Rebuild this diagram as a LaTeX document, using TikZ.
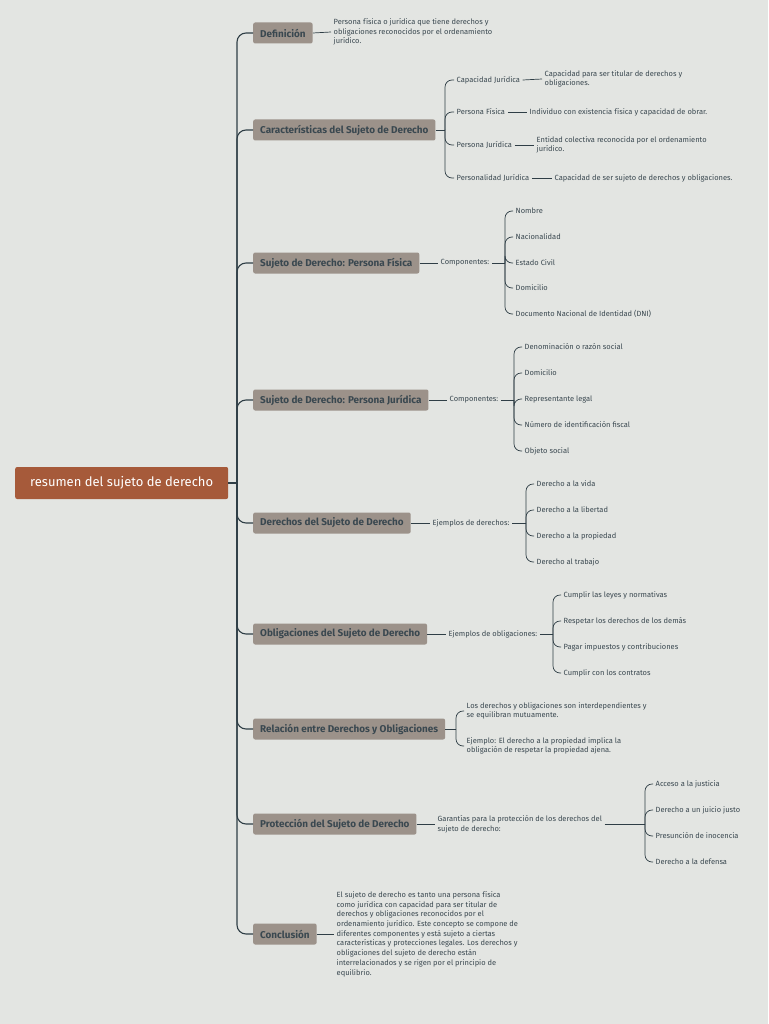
\documentclass[tikz,border=0pt]{standalone}
\usepackage{fontspec}
\setmainfont{Fira Sans}
\begin{document}
\begin{tikzpicture}[x=1pt,y=-1pt,
  line/.style={draw=lc,line width=1.1pt,rounded corners=9},
  thin/.style={draw=lc,line width=0.7pt,rounded corners=7},
  br/.style={anchor=west,fill=bx,rounded corners=2pt,text=tx,font=\fontsize{9.9}{11}\selectfont\bfseries,minimum height=21,inner xsep=7},
  lf/.style={anchor=west,text=tx,font=\fontsize{7.5}{9.7}\selectfont,align=left,inner xsep=2.5,inner ysep=1.5}]
\definecolor{bg}{HTML}{E3E5E2}\definecolor{bx}{HTML}{9C928A}\definecolor{tx}{HTML}{3A4850}
\definecolor{lc}{HTML}{2F3E46}\definecolor{rt}{HTML}{A65A3A}
\fill[bg] (0,0) rectangle (768,1024);
\useasboundingbox (0,0) rectangle (768,1024);
\node[anchor=west,fill=rt,rounded corners=2pt,text=white,font=\fontsize{13}{14}\selectfont,minimum height=32,minimum width=213,inner xsep=10] (root) at (15,483) {resumen del sujeto de derecho};
\coordinate (T) at (237,483);
\draw[line] (root.east) -- (T);
\node[br] (b1) at (253,33) {Definición};
\node[br] (b2) at (253,130) {Características del Sujeto de Derecho};
\node[br] (b3) at (253,263) {Sujeto de Derecho: Persona Física};
\node[br] (b4) at (253,400) {Sujeto de Derecho: Persona Jurídica};
\node[br] (b5) at (253,523) {Derechos del Sujeto de Derecho};
\node[br] (b6) at (253,634) {Obligaciones del Sujeto de Derecho};
\node[br] (b7) at (253,729) {Relación entre Derechos y Obligaciones};
\node[br] (b8) at (253,824) {Protección del Sujeto de Derecho};
\node[br] (b9) at (253,934) {Conclusión};
\foreach \b in {b1,b2,b3,b4,b5,b6,b7,b8,b9} \draw[line] (T) |- (\b.west);
% 1
\node[lf] (d1) at (331,32) {Persona física o jurídica que tiene derechos y\\obligaciones reconocidos por el ordenamiento\\jurídico.};
\draw[thin] (b1.east) -- (d1.west);
% 2
\coordinate (h2) at (445,130);
\draw[thin] (b2.east) -- (h2);
\node[lf] (c21) at (454,80) {Capacidad Jurídica};
\node[lf] (c22) at (454,112) {Persona Física};
\node[lf] (c23) at (454,145) {Persona Jurídica};
\node[lf] (c24) at (454,178) {Personalidad Jurídica};
\foreach \c in {c21,c22,c23,c24} \draw[thin] (h2) |- (\c.west);
\node[lf] (g21) at (542,79) {Capacidad para ser titular de derechos y\\obligaciones.};
\node[lf] (g22) at (527,112) {Individuo con existencia física y capacidad de obrar.};
\node[lf] (g23) at (534,145) {Entidad colectiva reconocida por el ordenamiento\\jurídico.};
\node[lf] (g24) at (552,178) {Capacidad de ser sujeto de derechos y obligaciones.};
\draw[thin] (c21.east) -- (g21.west); \draw[thin] (c22.east) -- (g22.west);
\draw[thin] (c23.east) -- (g23.west); \draw[thin] (c24.east) -- (g24.west);
% 3
\node[lf] (m3) at (438,263) {Componentes:};
\draw[thin] (b3.east) -- (m3.west);
\coordinate (h3) at (505,263); \draw[thin] (m3.east) -- (h3);
\foreach \t/\y [count=\i] in {Nombre/211,Nacionalidad/237,Estado Civil/263,Domicilio/288,Documento Nacional de Identidad (DNI)/314}{
  \node[lf] (c3\i) at (513,\y) {\t}; \draw[thin] (h3) |- (c3\i.west);}
% 4
\node[lf] (m4) at (447,400) {Componentes:};
\draw[thin] (b4.east) -- (m4.west);
\coordinate (h4) at (514,400); \draw[thin] (m4.east) -- (h4);
\foreach \t/\y [count=\i] in {Denominación o razón social/347,Domicilio/373,Representante legal/399,Número de identificación fiscal/425,Objeto social/451}{
  \node[lf] (c4\i) at (522,\y) {\t}; \draw[thin] (h4) |- (c4\i.west);}
% 5
\node[lf] (m5) at (430,523) {Ejemplos de derechos:};
\draw[thin] (b5.east) -- (m5.west);
\coordinate (h5) at (526,523); \draw[thin] (m5.east) -- (h5);
\foreach \t/\y [count=\i] in {Derecho a la vida/484,Derecho a la libertad/510,Derecho a la propiedad/536,Derecho al trabajo/562}{
  \node[lf] (c5\i) at (534,\y) {\t}; \draw[thin] (h5) |- (c5\i.west);}
% 6
\node[lf] (m6) at (446,634) {Ejemplos de obligaciones:};
\draw[thin] (b6.east) -- (m6.west);
\coordinate (h6) at (553,634); \draw[thin] (m6.east) -- (h6);
\foreach \t/\y [count=\i] in {Cumplir las leyes y normativas/595,Respetar los derechos de los demás/621,Pagar impuestos y contribuciones/647,Cumplir con los contratos/673}{
  \node[lf] (c6\i) at (561,\y) {\t}; \draw[thin] (h6) |- (c6\i.west);}
% 7
\coordinate (h7) at (456,729); \draw[thin] (b7.east) -- (h7);
\node[lf] (c71) at (464,711) {Los derechos y obligaciones son interdependientes y\\se equilibran mutuamente.};
\node[lf] (c72) at (464,746) {Ejemplo: El derecho a la propiedad implica la\\obligación de respetar la propiedad ajena.};
\draw[thin] (h7) |- (c71.west); \draw[thin] (h7) |- (c72.west);
% 8
\node[lf] (m8) at (435,824) {Garantías para la protección de los derechos del\\sujeto de derecho:};
\draw[thin] (b8.east) -- (m8.west);
\coordinate (h8) at (645,824); \draw[thin] (m8.east) -- (h8);
\foreach \t/\y [count=\i] in {Acceso a la justicia/784,Derecho a un juicio justo/810,Presunción de inocencia/836,Derecho a la defensa/862}{
  \node[lf] (c8\i) at (653,\y) {\t}; \draw[thin] (h8) |- (c8\i.west);}
% 9
\node[lf] (d9) at (334,934) {El sujeto de derecho es tanto una persona física\\como jurídica con capacidad para ser titular de\\derechos y obligaciones reconocidos por el\\ordenamiento jurídico. Este concepto se compone de\\diferentes componentes y está sujeto a ciertas\\características y protecciones legales. Los derechos y\\obligaciones del sujeto de derecho están\\interrelacionados y se rigen por el principio de\\equilibrio.};
\draw[thin] (b9.east) -- (d9.west);
\end{tikzpicture}
\end{document}
